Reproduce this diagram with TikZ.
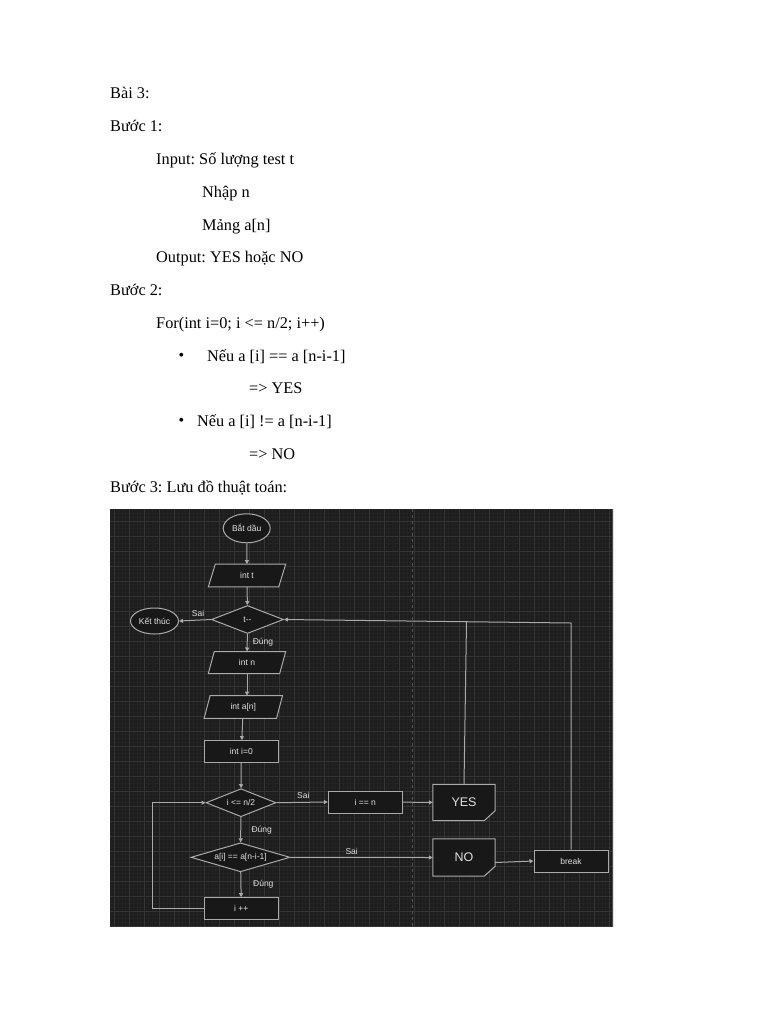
\documentclass[tikz,border=0pt]{standalone}
\usepackage{fontspec}
\setmainfont{Liberation Serif}
\newfontfamily\fcsans{Liberation Sans}
\usetikzlibrary{shapes.geometric,arrows.meta,calc}
\frenchspacing
\definecolor{panelbg}{RGB}{29,29,29}
\definecolor{gridmaj}{RGB}{52,52,52}
\definecolor{gridmin}{RGB}{35,35,35}
\definecolor{fcline}{RGB}{170,170,170}
\definecolor{fcfill}{RGB}{24,24,24}
\definecolor{fctext}{RGB}{225,225,225}
\pgfdeclarelayer{bgpanel}
\pgfdeclarelayer{shapes}
\pgfsetlayers{bgpanel,shapes,main}
\newcommand\drawpara[2]{%
  \begin{pgfonlayer}{shapes}
  \filldraw[fill=fcfill,draw=fcline,line width=1pt]
    ($(#1.north west)+(#2,0)$) -- (#1.north east) -- ($(#1.south east)+(-#2,0)$) -- (#1.south west) -- cycle;
  \end{pgfonlayer}}
\newcommand\drawcard[1]{%
  \begin{pgfonlayer}{shapes}
  \filldraw[fill=fcfill,draw=fcline,line width=1pt]
    (#1.north west) -- (#1.north east) -- ($(#1.south east)+(0,-10)$) -- ($(#1.south east)+(-11,0)$) -- (#1.south west) -- cycle;
  \end{pgfonlayer}}
\begin{document}
\begin{tikzpicture}[x=1pt,y=-1pt,
  txt/.style={font=\fontsize{16.3}{19}\selectfont, anchor=base west, inner sep=0pt},
  base/.style={font=\fcsans\fontsize{8.5}{10}\selectfont, text=fctext, inner sep=0pt},
  shp/.style={base, draw=fcline, fill=fcfill, line width=1pt},
  ell/.style={shp, ellipse},
  rbox/.style={shp, rectangle, minimum width=74pt, minimum height=22pt},
  dia/.style={shp, diamond, aspect=2.5},
  para/.style={base, rectangle},
  card/.style={base, rectangle, minimum width=62pt, minimum height=36pt, font=\fcsans\fontsize{12.5}{14}\selectfont},
  lbl/.style={base},
  arr/.style={draw=fcline, line width=1pt, -{Triangle[length=4pt,width=4pt]}},
  ln/.style={draw=fcline, line width=1pt}]
\useasboundingbox (0,0) rectangle (768,1024);

% ---- text part ----
\node[txt] (t1) at (110,99) {Bài 3:};
\node[txt] (t2) at (110,131.75) {Bước 1:};
\node[txt] (t3) at (156,164.5) {Input: Số lượng test t};
\node[txt] (t4) at (202,197.25) {Nhập n};
\node[txt] (t5) at (202,230) {Mảng a[n]};
\node[txt] (t6) at (156,262.75) {Output: YES hoặc NO};
\node[txt] (t7) at (110,295.5) {Bước 2:};
\node[txt] (t8) at (156,328.25) {For(int i=0; i <= n/2; i++)};
\node[txt, anchor=base, font=\fontsize{16}{18}\selectfont] (b1) at (181.5,360) {•};
\node[txt] (t9) at (207,361) {Nếu a [i] == a [n-i-1]};
\node[txt] (t10) at (249,393.75) {=> YES};
\node[txt, anchor=base, font=\fontsize{16}{18}\selectfont] (b2) at (181.5,425.5) {•};
\node[txt] (t11) at (197,426.5) {Nếu a [i] != a [n-i-1]};
\node[txt] (t12) at (249,459.25) {=> NO};
\node[txt] (t13) at (110,492) {Bước 3: Lưu đồ thuật toán:};

% ---- panel ----
\begin{pgfonlayer}{bgpanel}
\fill[white] (0,0) rectangle (768,1024);
\fill[panelbg] (109.5,509) rectangle (613,927);
\begin{scope}
\clip (109.5,509) rectangle (613,927);
\foreach \k in {0,...,134} \draw[gridmin, line width=0.6pt] ({110.55+3.75*\k},509) -- ++(0,418);
\foreach \k in {0,...,111} \draw[gridmin, line width=0.6pt] (109.5,{509.75+3.75*\k}) -- ++(503.5,0);
\foreach \k in {0,...,33} \draw[gridmaj, line width=0.7pt] ({114.3+15*\k},509) -- ++(0,418);
\foreach \k in {0,...,27} \draw[gridmaj, line width=0.7pt] (109.5,{521+15*\k}) -- ++(503.5,0);
\draw[gridmaj!85!white, line width=0.6pt, dash pattern=on 3pt off 3pt] (412,509) -- (412,927);
\end{scope}
\draw[gray!60!black, line width=1pt] (612.5,509) -- (612.5,927);
\end{pgfonlayer}

% ---- nodes ----
\node[ell, minimum width=47pt, minimum height=29pt] (start) at (246.7,528.3) {Bắt dầu};
\node[para, minimum width=77pt, minimum height=22.4pt] (intt) at (247,575.5) {int t};
\drawpara{intt}{7}
\node[dia, minimum width=72pt, minimum height=28pt] (tdec) at (247.5,619.5) {t-{}-};
\node[ell, minimum width=48pt, minimum height=26pt] (end) at (154.5,621) {Kết thúc};
\node[para, minimum width=77pt, minimum height=21.6pt] (intn) at (247,662.5) {int n};
\drawpara{intn}{6}
\node[para, minimum width=78pt, minimum height=22.3pt] (inta) at (243.3,707) {int a[n]};
\drawpara{inta}{6}
\node[rbox] (i0) at (241.3,751.7) {int i=0};
\node[dia, minimum width=70pt, minimum height=28pt] (d2) at (241,802.7) {i <= n/2};
\node[rbox] (ieqn) at (365.3,802) {i == n};
\node[card] (yes) at (464,802.5) {YES};
\drawcard{yes}
\node[dia, minimum width=99pt, minimum height=29pt] (d3) at (240.5,857.3) {a[i] == a[n-i-1]};
\node[card, minimum height=37pt] (no) at (464,857.5) {NO};
\drawcard{no}
\node[rbox] (brk) at (571,861) {break};
\node[rbox] (ipp) at (241.3,908.7) {i ++};

% ---- labels ----
\node[lbl] (s1) at (198,613.3) {Sai};
\node[lbl] (dg1) at (263,642.7) {Đúng};
\node[lbl] (s2) at (303.3,795) {Sai};
\node[lbl] (dg2) at (261.7,830) {Đúng};
\node[lbl] (s3) at (351.7,851) {Sai};
\node[lbl] (dg3) at (263.3,884) {Đúng};

% ---- connectors ----
\coordinate (tr) at (571,623);
\coordinate (yj) at (466.5,621.7);
\draw[arr] (start) -- (intt);
\draw[arr] (intt) -- (tdec);
\draw[arr] (tdec.west) -- (end.east);
\draw[arr] (tdec) -- (intn);
\draw[arr] (intn.south) -- (intn.south |- inta.north);
\draw[arr] (inta) -- (i0);
\draw[arr] (i0) -- (d2);
\draw[arr] (d2.east) -- (ieqn.west);
\draw[arr] (ieqn) -- (yes);
\draw[arr] (d2) -- (d3);
\draw[arr] (d3.east) -- (no.west);
\draw[arr] ($(no.east)+(0,5)$) -- (brk.west);
\draw[arr] (d3) -- (ipp);
\draw[arr] (ipp.west) -- ++(-51,0) |- (d2.west);
\draw[arr] (brk.north) -- (tr) -- (tdec.east);
\draw[ln] (yes.north) -- (yj);
\end{tikzpicture}
\end{document}
